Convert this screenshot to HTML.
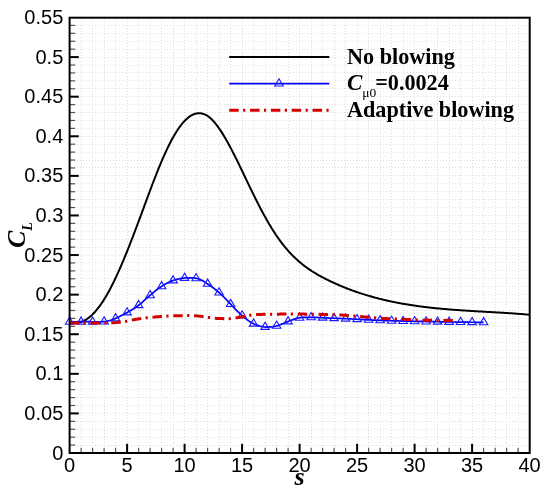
<!DOCTYPE html>
<html><head><meta charset="utf-8"><title>CL vs s</title>
<style>html,body{margin:0;padding:0;background:#fff;}body{width:550px;height:494px;overflow:hidden;}svg{display:block;}</style>
</head><body>
<svg width="550" height="494" viewBox="0 0 550 494">
<g stroke="#dedede" stroke-width="1" stroke-dasharray="1 2" fill="none"><line x1="81.5" y1="19" x2="81.5" y2="452"/><line x1="92.5" y1="19" x2="92.5" y2="452"/><line x1="104.5" y1="19" x2="104.5" y2="452"/><line x1="115.5" y1="19" x2="115.5" y2="452"/><line x1="127.5" y1="19" x2="127.5" y2="452"/><line x1="138.5" y1="19" x2="138.5" y2="452"/><line x1="150.5" y1="19" x2="150.5" y2="452"/><line x1="161.5" y1="19" x2="161.5" y2="452"/><line x1="173.5" y1="19" x2="173.5" y2="452"/><line x1="184.5" y1="19" x2="184.5" y2="452"/><line x1="196.5" y1="19" x2="196.5" y2="452"/><line x1="207.5" y1="19" x2="207.5" y2="452"/><line x1="219.5" y1="19" x2="219.5" y2="452"/><line x1="230.5" y1="19" x2="230.5" y2="452"/><line x1="242.5" y1="19" x2="242.5" y2="452"/><line x1="253.5" y1="19" x2="253.5" y2="452"/><line x1="265.5" y1="19" x2="265.5" y2="452"/><line x1="276.5" y1="19" x2="276.5" y2="452"/><line x1="288.5" y1="19" x2="288.5" y2="452"/><line x1="299.5" y1="19" x2="299.5" y2="452"/><line x1="311.5" y1="19" x2="311.5" y2="452"/><line x1="322.5" y1="19" x2="322.5" y2="452"/><line x1="334.5" y1="19" x2="334.5" y2="452"/><line x1="345.5" y1="19" x2="345.5" y2="452"/><line x1="357.5" y1="19" x2="357.5" y2="452"/><line x1="368.5" y1="19" x2="368.5" y2="452"/><line x1="380.5" y1="19" x2="380.5" y2="452"/><line x1="391.5" y1="19" x2="391.5" y2="452"/><line x1="403.5" y1="19" x2="403.5" y2="452"/><line x1="414.5" y1="19" x2="414.5" y2="452"/><line x1="426.5" y1="19" x2="426.5" y2="452"/><line x1="437.5" y1="19" x2="437.5" y2="452"/><line x1="449.5" y1="19" x2="449.5" y2="452"/><line x1="460.5" y1="19" x2="460.5" y2="452"/><line x1="472.5" y1="19" x2="472.5" y2="452"/><line x1="483.5" y1="19" x2="483.5" y2="452"/><line x1="495.5" y1="19" x2="495.5" y2="452"/><line x1="506.5" y1="19" x2="506.5" y2="452"/><line x1="518.5" y1="19" x2="518.5" y2="452"/><line x1="71" y1="445.5" x2="529" y2="445.5"/><line x1="71" y1="437.5" x2="529" y2="437.5"/><line x1="71" y1="429.5" x2="529" y2="429.5"/><line x1="71" y1="421.5" x2="529" y2="421.5"/><line x1="71" y1="413.5" x2="529" y2="413.5"/><line x1="71" y1="405.5" x2="529" y2="405.5"/><line x1="71" y1="397.5" x2="529" y2="397.5"/><line x1="71" y1="389.5" x2="529" y2="389.5"/><line x1="71" y1="381.5" x2="529" y2="381.5"/><line x1="71" y1="373.5" x2="529" y2="373.5"/><line x1="71" y1="365.5" x2="529" y2="365.5"/><line x1="71" y1="357.5" x2="529" y2="357.5"/><line x1="71" y1="350.5" x2="529" y2="350.5"/><line x1="71" y1="342.5" x2="529" y2="342.5"/><line x1="71" y1="334.5" x2="529" y2="334.5"/><line x1="71" y1="326.5" x2="529" y2="326.5"/><line x1="71" y1="318.5" x2="529" y2="318.5"/><line x1="71" y1="310.5" x2="529" y2="310.5"/><line x1="71" y1="302.5" x2="529" y2="302.5"/><line x1="71" y1="294.5" x2="529" y2="294.5"/><line x1="71" y1="286.5" x2="529" y2="286.5"/><line x1="71" y1="278.5" x2="529" y2="278.5"/><line x1="71" y1="270.5" x2="529" y2="270.5"/><line x1="71" y1="262.5" x2="529" y2="262.5"/><line x1="71" y1="255.5" x2="529" y2="255.5"/><line x1="71" y1="247.5" x2="529" y2="247.5"/><line x1="71" y1="239.5" x2="529" y2="239.5"/><line x1="71" y1="231.5" x2="529" y2="231.5"/><line x1="71" y1="223.5" x2="529" y2="223.5"/><line x1="71" y1="215.5" x2="529" y2="215.5"/><line x1="71" y1="207.5" x2="529" y2="207.5"/><line x1="71" y1="199.5" x2="529" y2="199.5"/><line x1="71" y1="191.5" x2="529" y2="191.5"/><line x1="71" y1="183.5" x2="529" y2="183.5"/><line x1="71" y1="175.5" x2="529" y2="175.5"/><line x1="71" y1="167.5" x2="529" y2="167.5"/><line x1="71" y1="160.5" x2="529" y2="160.5"/><line x1="71" y1="152.5" x2="529" y2="152.5"/><line x1="71" y1="144.5" x2="529" y2="144.5"/><line x1="71" y1="136.5" x2="529" y2="136.5"/><line x1="71" y1="128.5" x2="529" y2="128.5"/><line x1="71" y1="120.5" x2="529" y2="120.5"/><line x1="71" y1="112.5" x2="529" y2="112.5"/><line x1="71" y1="104.5" x2="529" y2="104.5"/><line x1="71" y1="96.5" x2="529" y2="96.5"/><line x1="71" y1="88.5" x2="529" y2="88.5"/><line x1="71" y1="80.5" x2="529" y2="80.5"/><line x1="71" y1="72.5" x2="529" y2="72.5"/><line x1="71" y1="65.5" x2="529" y2="65.5"/><line x1="71" y1="57.5" x2="529" y2="57.5"/><line x1="71" y1="49.5" x2="529" y2="49.5"/><line x1="71" y1="41.5" x2="529" y2="41.5"/><line x1="71" y1="33.5" x2="529" y2="33.5"/><line x1="71" y1="25.5" x2="529" y2="25.5"/></g>
<line x1="81.10" y1="453" x2="81.10" y2="447.8" stroke="#555" stroke-width="1.2"/><line x1="92.60" y1="453" x2="92.60" y2="447.8" stroke="#555" stroke-width="1.2"/><line x1="104.10" y1="453" x2="104.10" y2="447.8" stroke="#555" stroke-width="1.2"/><line x1="115.60" y1="453" x2="115.60" y2="447.8" stroke="#555" stroke-width="1.2"/><line x1="127.10" y1="453" x2="127.10" y2="443.8" stroke="#000" stroke-width="2"/><line x1="138.60" y1="453" x2="138.60" y2="447.8" stroke="#555" stroke-width="1.2"/><line x1="150.10" y1="453" x2="150.10" y2="447.8" stroke="#555" stroke-width="1.2"/><line x1="161.60" y1="453" x2="161.60" y2="447.8" stroke="#555" stroke-width="1.2"/><line x1="173.10" y1="453" x2="173.10" y2="447.8" stroke="#555" stroke-width="1.2"/><line x1="184.60" y1="453" x2="184.60" y2="443.8" stroke="#000" stroke-width="2"/><line x1="196.10" y1="453" x2="196.10" y2="447.8" stroke="#555" stroke-width="1.2"/><line x1="207.60" y1="453" x2="207.60" y2="447.8" stroke="#555" stroke-width="1.2"/><line x1="219.10" y1="453" x2="219.10" y2="447.8" stroke="#555" stroke-width="1.2"/><line x1="230.60" y1="453" x2="230.60" y2="447.8" stroke="#555" stroke-width="1.2"/><line x1="242.10" y1="453" x2="242.10" y2="443.8" stroke="#000" stroke-width="2"/><line x1="253.60" y1="453" x2="253.60" y2="447.8" stroke="#555" stroke-width="1.2"/><line x1="265.10" y1="453" x2="265.10" y2="447.8" stroke="#555" stroke-width="1.2"/><line x1="276.60" y1="453" x2="276.60" y2="447.8" stroke="#555" stroke-width="1.2"/><line x1="288.10" y1="453" x2="288.10" y2="447.8" stroke="#555" stroke-width="1.2"/><line x1="299.60" y1="453" x2="299.60" y2="443.8" stroke="#000" stroke-width="2"/><line x1="311.10" y1="453" x2="311.10" y2="447.8" stroke="#555" stroke-width="1.2"/><line x1="322.60" y1="453" x2="322.60" y2="447.8" stroke="#555" stroke-width="1.2"/><line x1="334.10" y1="453" x2="334.10" y2="447.8" stroke="#555" stroke-width="1.2"/><line x1="345.60" y1="453" x2="345.60" y2="447.8" stroke="#555" stroke-width="1.2"/><line x1="357.10" y1="453" x2="357.10" y2="443.8" stroke="#000" stroke-width="2"/><line x1="368.60" y1="453" x2="368.60" y2="447.8" stroke="#555" stroke-width="1.2"/><line x1="380.10" y1="453" x2="380.10" y2="447.8" stroke="#555" stroke-width="1.2"/><line x1="391.60" y1="453" x2="391.60" y2="447.8" stroke="#555" stroke-width="1.2"/><line x1="403.10" y1="453" x2="403.10" y2="447.8" stroke="#555" stroke-width="1.2"/><line x1="414.60" y1="453" x2="414.60" y2="443.8" stroke="#000" stroke-width="2"/><line x1="426.10" y1="453" x2="426.10" y2="447.8" stroke="#555" stroke-width="1.2"/><line x1="437.60" y1="453" x2="437.60" y2="447.8" stroke="#555" stroke-width="1.2"/><line x1="449.10" y1="453" x2="449.10" y2="447.8" stroke="#555" stroke-width="1.2"/><line x1="460.60" y1="453" x2="460.60" y2="447.8" stroke="#555" stroke-width="1.2"/><line x1="472.10" y1="453" x2="472.10" y2="443.8" stroke="#000" stroke-width="2"/><line x1="483.60" y1="453" x2="483.60" y2="447.8" stroke="#555" stroke-width="1.2"/><line x1="495.10" y1="453" x2="495.10" y2="447.8" stroke="#555" stroke-width="1.2"/><line x1="506.60" y1="453" x2="506.60" y2="447.8" stroke="#555" stroke-width="1.2"/><line x1="518.10" y1="453" x2="518.10" y2="447.8" stroke="#555" stroke-width="1.2"/><line x1="69.6" y1="445.08" x2="75.2" y2="445.08" stroke="#555" stroke-width="1.2"/><line x1="69.6" y1="437.16" x2="75.2" y2="437.16" stroke="#555" stroke-width="1.2"/><line x1="69.6" y1="429.25" x2="75.2" y2="429.25" stroke="#555" stroke-width="1.2"/><line x1="69.6" y1="421.33" x2="75.2" y2="421.33" stroke="#555" stroke-width="1.2"/><line x1="69.6" y1="413.41" x2="78.8" y2="413.41" stroke="#000" stroke-width="2"/><line x1="69.6" y1="405.49" x2="75.2" y2="405.49" stroke="#555" stroke-width="1.2"/><line x1="69.6" y1="397.57" x2="75.2" y2="397.57" stroke="#555" stroke-width="1.2"/><line x1="69.6" y1="389.66" x2="75.2" y2="389.66" stroke="#555" stroke-width="1.2"/><line x1="69.6" y1="381.74" x2="75.2" y2="381.74" stroke="#555" stroke-width="1.2"/><line x1="69.6" y1="373.82" x2="78.8" y2="373.82" stroke="#000" stroke-width="2"/><line x1="69.6" y1="365.90" x2="75.2" y2="365.90" stroke="#555" stroke-width="1.2"/><line x1="69.6" y1="357.98" x2="75.2" y2="357.98" stroke="#555" stroke-width="1.2"/><line x1="69.6" y1="350.07" x2="75.2" y2="350.07" stroke="#555" stroke-width="1.2"/><line x1="69.6" y1="342.15" x2="75.2" y2="342.15" stroke="#555" stroke-width="1.2"/><line x1="69.6" y1="334.23" x2="78.8" y2="334.23" stroke="#000" stroke-width="2"/><line x1="69.6" y1="326.31" x2="75.2" y2="326.31" stroke="#555" stroke-width="1.2"/><line x1="69.6" y1="318.39" x2="75.2" y2="318.39" stroke="#555" stroke-width="1.2"/><line x1="69.6" y1="310.48" x2="75.2" y2="310.48" stroke="#555" stroke-width="1.2"/><line x1="69.6" y1="302.56" x2="75.2" y2="302.56" stroke="#555" stroke-width="1.2"/><line x1="69.6" y1="294.64" x2="78.8" y2="294.64" stroke="#000" stroke-width="2"/><line x1="69.6" y1="286.72" x2="75.2" y2="286.72" stroke="#555" stroke-width="1.2"/><line x1="69.6" y1="278.80" x2="75.2" y2="278.80" stroke="#555" stroke-width="1.2"/><line x1="69.6" y1="270.89" x2="75.2" y2="270.89" stroke="#555" stroke-width="1.2"/><line x1="69.6" y1="262.97" x2="75.2" y2="262.97" stroke="#555" stroke-width="1.2"/><line x1="69.6" y1="255.05" x2="78.8" y2="255.05" stroke="#000" stroke-width="2"/><line x1="69.6" y1="247.13" x2="75.2" y2="247.13" stroke="#555" stroke-width="1.2"/><line x1="69.6" y1="239.21" x2="75.2" y2="239.21" stroke="#555" stroke-width="1.2"/><line x1="69.6" y1="231.30" x2="75.2" y2="231.30" stroke="#555" stroke-width="1.2"/><line x1="69.6" y1="223.38" x2="75.2" y2="223.38" stroke="#555" stroke-width="1.2"/><line x1="69.6" y1="215.46" x2="78.8" y2="215.46" stroke="#000" stroke-width="2"/><line x1="69.6" y1="207.54" x2="75.2" y2="207.54" stroke="#555" stroke-width="1.2"/><line x1="69.6" y1="199.62" x2="75.2" y2="199.62" stroke="#555" stroke-width="1.2"/><line x1="69.6" y1="191.71" x2="75.2" y2="191.71" stroke="#555" stroke-width="1.2"/><line x1="69.6" y1="183.79" x2="75.2" y2="183.79" stroke="#555" stroke-width="1.2"/><line x1="69.6" y1="175.87" x2="78.8" y2="175.87" stroke="#000" stroke-width="2"/><line x1="69.6" y1="167.95" x2="75.2" y2="167.95" stroke="#555" stroke-width="1.2"/><line x1="69.6" y1="160.03" x2="75.2" y2="160.03" stroke="#555" stroke-width="1.2"/><line x1="69.6" y1="152.12" x2="75.2" y2="152.12" stroke="#555" stroke-width="1.2"/><line x1="69.6" y1="144.20" x2="75.2" y2="144.20" stroke="#555" stroke-width="1.2"/><line x1="69.6" y1="136.28" x2="78.8" y2="136.28" stroke="#000" stroke-width="2"/><line x1="69.6" y1="128.36" x2="75.2" y2="128.36" stroke="#555" stroke-width="1.2"/><line x1="69.6" y1="120.44" x2="75.2" y2="120.44" stroke="#555" stroke-width="1.2"/><line x1="69.6" y1="112.53" x2="75.2" y2="112.53" stroke="#555" stroke-width="1.2"/><line x1="69.6" y1="104.61" x2="75.2" y2="104.61" stroke="#555" stroke-width="1.2"/><line x1="69.6" y1="96.69" x2="78.8" y2="96.69" stroke="#000" stroke-width="2"/><line x1="69.6" y1="88.77" x2="75.2" y2="88.77" stroke="#555" stroke-width="1.2"/><line x1="69.6" y1="80.85" x2="75.2" y2="80.85" stroke="#555" stroke-width="1.2"/><line x1="69.6" y1="72.94" x2="75.2" y2="72.94" stroke="#555" stroke-width="1.2"/><line x1="69.6" y1="65.02" x2="75.2" y2="65.02" stroke="#555" stroke-width="1.2"/><line x1="69.6" y1="57.10" x2="78.8" y2="57.10" stroke="#000" stroke-width="2"/><line x1="69.6" y1="49.18" x2="75.2" y2="49.18" stroke="#555" stroke-width="1.2"/><line x1="69.6" y1="41.26" x2="75.2" y2="41.26" stroke="#555" stroke-width="1.2"/><line x1="69.6" y1="33.35" x2="75.2" y2="33.35" stroke="#555" stroke-width="1.2"/><line x1="69.6" y1="25.43" x2="75.2" y2="25.43" stroke="#555" stroke-width="1.2"/>
<path d="M69.60,321.59 L70.40,321.87 L71.20,322.11 L72.00,322.31 L72.80,322.47 L73.60,322.60 L74.40,322.68 L75.20,322.72 L76.00,322.73 L76.80,322.69 L77.60,322.62 L78.40,322.51 L79.20,322.36 L80.00,322.17 L80.80,321.94 L81.60,321.68 L82.40,321.38 L83.20,321.04 L84.00,320.66 L84.80,320.25 L85.60,319.80 L86.40,319.31 L87.20,318.79 L88.00,318.23 L88.80,317.63 L89.60,317.00 L90.40,316.33 L91.20,315.63 L92.00,314.89 L92.80,314.11 L93.60,313.30 L94.40,312.45 L95.20,311.57 L96.00,310.65 L96.80,309.70 L97.60,308.72 L98.40,307.70 L99.20,306.64 L100.00,305.56 L100.80,304.44 L101.60,303.28 L102.40,302.09 L103.20,300.87 L104.00,299.61 L104.80,298.32 L105.60,297.00 L106.40,295.65 L107.20,294.26 L108.00,292.85 L108.80,291.40 L109.60,289.92 L110.40,288.41 L111.20,286.87 L112.00,285.31 L112.80,283.72 L113.60,282.10 L114.40,280.45 L115.20,278.78 L116.00,277.08 L116.80,275.36 L117.60,273.61 L118.40,271.84 L119.20,270.05 L120.00,268.24 L120.80,266.41 L121.60,264.55 L122.40,262.68 L123.20,260.78 L124.00,258.87 L124.80,256.94 L125.60,254.99 L126.40,253.03 L127.20,251.05 L128.00,249.05 L128.80,247.04 L129.60,245.02 L130.40,242.98 L131.20,240.92 L132.00,238.86 L132.80,236.79 L133.60,234.70 L134.40,232.60 L135.20,230.50 L136.00,228.38 L136.80,226.26 L137.60,224.12 L138.40,221.98 L139.20,219.84 L140.00,217.69 L140.80,215.53 L141.60,213.37 L142.40,211.21 L143.20,209.04 L144.00,206.87 L144.80,204.70 L145.60,202.54 L146.40,200.37 L147.20,198.21 L148.00,196.05 L148.80,193.90 L149.60,191.76 L150.40,189.62 L151.21,187.50 L152.01,185.38 L152.81,183.27 L153.61,181.18 L154.41,179.10 L155.21,177.04 L156.01,174.99 L156.82,172.96 L157.62,170.94 L158.42,168.95 L159.23,166.97 L160.03,165.02 L160.83,163.09 L161.64,161.19 L162.44,159.31 L163.25,157.45 L164.05,155.62 L164.86,153.82 L165.67,152.05 L166.48,150.32 L167.29,148.61 L168.10,146.93 L168.91,145.29 L169.72,143.68 L170.53,142.11 L171.34,140.57 L172.16,139.06 L172.97,137.59 L173.79,136.16 L174.61,134.76 L175.42,133.40 L176.24,132.08 L177.06,130.80 L177.88,129.56 L178.71,128.35 L179.53,127.19 L180.35,126.07 L181.17,124.99 L182.00,123.95 L182.82,122.96 L183.65,122.01 L184.47,121.10 L185.30,120.25 L186.12,119.43 L186.95,118.67 L187.77,117.96 L188.59,117.29 L189.42,116.68 L190.24,116.11 L191.06,115.60 L191.88,115.14 L192.70,114.73 L193.52,114.38 L194.34,114.07 L195.15,113.81 L195.96,113.60 L196.77,113.44 L197.58,113.33 L198.39,113.26 L199.20,113.25 L200.00,113.27 L200.80,113.35 L201.60,113.48 L202.40,113.65 L203.19,113.87 L203.98,114.14 L204.77,114.45 L205.56,114.82 L206.35,115.23 L207.14,115.70 L207.92,116.21 L208.70,116.77 L209.48,117.38 L210.26,118.04 L211.04,118.74 L211.82,119.48 L212.59,120.27 L213.37,121.10 L214.15,121.96 L214.92,122.87 L215.70,123.82 L216.47,124.80 L217.25,125.82 L218.02,126.87 L218.80,127.96 L219.57,129.08 L220.35,130.23 L221.13,131.41 L221.91,132.62 L222.68,133.86 L223.46,135.12 L224.24,136.42 L225.02,137.74 L225.81,139.08 L226.59,140.45 L227.37,141.85 L228.16,143.26 L228.94,144.70 L229.73,146.16 L230.52,147.64 L231.31,149.13 L232.10,150.65 L232.89,152.18 L233.68,153.72 L234.47,155.29 L235.26,156.86 L236.05,158.45 L236.85,160.06 L237.64,161.67 L238.44,163.29 L239.23,164.93 L240.03,166.57 L240.83,168.22 L241.62,169.88 L242.42,171.54 L243.22,173.20 L244.01,174.87 L244.81,176.54 L245.61,178.22 L246.41,179.89 L247.21,181.56 L248.01,183.23 L248.81,184.90 L249.60,186.56 L250.40,188.22 L251.20,189.87 L252.00,191.52 L252.80,193.16 L253.60,194.78 L254.40,196.40 L255.20,198.01 L256.00,199.61 L256.80,201.20 L257.60,202.77 L258.40,204.34 L259.20,205.89 L260.00,207.43 L260.80,208.95 L261.60,210.46 L262.40,211.96 L263.20,213.45 L264.00,214.92 L264.80,216.37 L265.60,217.81 L266.40,219.24 L267.20,220.64 L268.00,222.04 L268.80,223.41 L269.60,224.77 L270.40,226.10 L271.20,227.42 L272.00,228.73 L272.80,230.01 L273.60,231.27 L274.40,232.52 L275.20,233.74 L276.00,234.94 L276.80,236.13 L277.60,237.29 L278.40,238.43 L279.20,239.55 L280.00,240.65 L280.80,241.72 L281.60,242.78 L282.40,243.82 L283.20,244.85 L284.00,245.85 L284.80,246.83 L285.60,247.80 L286.40,248.75 L287.20,249.68 L288.00,250.59 L288.80,251.48 L289.60,252.36 L290.40,253.22 L291.20,254.07 L292.00,254.90 L292.80,255.71 L293.60,256.51 L294.40,257.29 L295.20,258.06 L296.00,258.81 L296.80,259.55 L297.60,260.27 L298.40,260.99 L299.20,261.68 L300.00,262.37 L300.80,263.04 L301.60,263.70 L302.40,264.34 L303.20,264.97 L304.00,265.60 L304.80,266.21 L305.60,266.80 L306.40,267.39 L307.20,267.97 L308.00,268.54 L308.80,269.09 L309.60,269.64 L310.40,270.17 L311.20,270.70 L312.00,271.22 L312.80,271.73 L313.60,272.23 L314.40,272.72 L315.20,273.21 L316.00,273.68 L316.80,274.15 L317.60,274.61 L318.40,275.07 L319.20,275.52 L320.00,275.96 L320.80,276.39 L321.60,276.82 L322.40,277.25 L323.20,277.67 L324.00,278.08 L324.80,278.49 L325.60,278.90 L326.40,279.30 L327.20,279.70 L328.00,280.09 L328.80,280.48 L329.60,280.87 L330.40,281.25 L331.20,281.63 L332.00,282.01 L332.80,282.38 L333.60,282.75 L334.40,283.12 L335.20,283.48 L336.00,283.84 L336.80,284.19 L337.60,284.54 L338.40,284.89 L339.20,285.24 L340.00,285.58 L340.80,285.92 L341.60,286.25 L342.40,286.59 L343.20,286.92 L344.00,287.24 L344.80,287.56 L345.60,287.88 L346.40,288.20 L347.20,288.51 L348.00,288.82 L348.80,289.13 L349.60,289.43 L350.40,289.73 L351.20,290.03 L352.00,290.33 L352.80,290.62 L353.60,290.91 L354.40,291.19 L355.20,291.47 L356.00,291.75 L356.80,292.03 L357.60,292.30 L358.40,292.58 L359.20,292.84 L360.00,293.11 L360.80,293.37 L361.60,293.63 L362.40,293.89 L363.20,294.14 L364.00,294.40 L364.80,294.65 L365.60,294.89 L366.40,295.14 L367.20,295.38 L368.00,295.61 L368.80,295.85 L369.60,296.08 L370.40,296.31 L371.20,296.54 L372.00,296.77 L372.80,296.99 L373.60,297.21 L374.40,297.43 L375.20,297.65 L376.00,297.86 L376.80,298.07 L377.60,298.28 L378.40,298.49 L379.20,298.69 L380.00,298.89 L380.80,299.09 L381.60,299.29 L382.40,299.48 L383.20,299.67 L384.00,299.86 L384.80,300.05 L385.60,300.24 L386.40,300.42 L387.20,300.60 L388.00,300.78 L388.80,300.96 L389.60,301.13 L390.40,301.31 L391.20,301.48 L392.00,301.64 L392.80,301.81 L393.60,301.98 L394.40,302.14 L395.20,302.30 L396.00,302.46 L396.80,302.61 L397.60,302.77 L398.40,302.92 L399.20,303.07 L400.00,303.22 L400.80,303.37 L401.60,303.51 L402.40,303.66 L403.20,303.80 L404.00,303.94 L404.80,304.07 L405.60,304.21 L406.40,304.34 L407.20,304.48 L408.00,304.61 L408.80,304.74 L409.60,304.86 L410.40,304.99 L411.20,305.11 L412.00,305.24 L412.80,305.36 L413.60,305.48 L414.40,305.59 L415.20,305.71 L416.00,305.82 L416.80,305.94 L417.60,306.05 L418.40,306.16 L419.20,306.27 L420.00,306.37 L420.80,306.48 L421.60,306.58 L422.40,306.68 L423.20,306.79 L424.00,306.89 L424.80,306.98 L425.60,307.08 L426.40,307.18 L427.20,307.27 L428.00,307.36 L428.80,307.46 L429.60,307.55 L430.40,307.64 L431.20,307.72 L432.00,307.81 L432.80,307.90 L433.60,307.98 L434.40,308.06 L435.20,308.15 L436.00,308.23 L436.80,308.31 L437.60,308.39 L438.40,308.46 L439.20,308.54 L440.00,308.62 L440.80,308.69 L441.60,308.77 L442.40,308.84 L443.20,308.91 L444.00,308.98 L444.80,309.05 L445.60,309.12 L446.40,309.19 L447.20,309.26 L448.00,309.32 L448.80,309.39 L449.60,309.45 L450.40,309.52 L451.20,309.58 L452.00,309.64 L452.80,309.70 L453.60,309.76 L454.40,309.82 L455.20,309.88 L456.00,309.94 L456.80,310.00 L457.60,310.06 L458.40,310.11 L459.20,310.17 L460.00,310.23 L460.80,310.28 L461.60,310.34 L462.40,310.39 L463.20,310.44 L464.00,310.50 L464.80,310.55 L465.60,310.60 L466.40,310.65 L467.20,310.70 L468.00,310.75 L468.80,310.80 L469.60,310.85 L470.40,310.90 L471.20,310.95 L472.00,311.00 L472.80,311.05 L473.60,311.10 L474.40,311.14 L475.20,311.19 L476.00,311.24 L476.80,311.28 L477.60,311.33 L478.40,311.38 L479.20,311.42 L480.00,311.47 L480.80,311.52 L481.60,311.56 L482.40,311.61 L483.20,311.65 L484.00,311.70 L484.80,311.74 L485.60,311.79 L486.40,311.83 L487.20,311.88 L488.00,311.92 L488.80,311.97 L489.60,312.02 L490.40,312.06 L491.20,312.11 L492.00,312.15 L492.80,312.20 L493.60,312.24 L494.40,312.29 L495.20,312.34 L496.00,312.38 L496.80,312.43 L497.60,312.48 L498.40,312.52 L499.20,312.57 L500.00,312.62 L500.80,312.66 L501.60,312.71 L502.40,312.76 L503.20,312.81 L504.00,312.86 L504.80,312.91 L505.60,312.96 L506.40,313.01 L507.20,313.06 L508.00,313.11 L508.80,313.16 L509.60,313.21 L510.40,313.27 L511.20,313.32 L512.00,313.37 L512.80,313.43 L513.60,313.48 L514.40,313.54 L515.20,313.59 L516.00,313.65 L516.80,313.71 L517.60,313.76 L518.40,313.82 L519.20,313.88 L520.00,313.94 L520.80,314.00 L521.60,314.06 L522.40,314.12 L523.20,314.19 L524.00,314.25 L524.80,314.31 L525.60,314.38 L526.40,314.44 L527.20,314.51 L528.00,314.58 L528.80,314.65 L529.60,314.72" fill="none" stroke="#000" stroke-width="2.0" stroke-linejoin="round"/>
<path d="M69.60,321.80 L70.40,321.79 L71.20,321.78 L72.00,321.77 L72.80,321.76 L73.60,321.76 L74.40,321.75 L75.20,321.74 L76.00,321.74 L76.80,321.73 L77.60,321.72 L78.40,321.72 L79.20,321.72 L80.00,321.71 L80.80,321.71 L81.60,321.71 L82.40,321.70 L83.20,321.70 L84.00,321.70 L84.80,321.70 L85.60,321.70 L86.40,321.70 L87.20,321.70 L88.00,321.71 L88.80,321.71 L89.60,321.72 L90.40,321.72 L91.20,321.73 L92.00,321.73 L92.80,321.74 L93.60,321.74 L94.40,321.75 L95.20,321.75 L96.00,321.76 L96.80,321.76 L97.60,321.77 L98.40,321.77 L99.20,321.77 L100.00,321.77 L100.80,321.76 L101.60,321.74 L102.40,321.71 L103.20,321.68 L104.00,321.63 L104.80,321.57 L105.60,321.50 L106.40,321.35 L107.20,321.17 L108.00,320.96 L108.80,320.75 L109.60,320.55 L110.40,320.34 L111.20,320.12 L112.00,319.88 L112.80,319.62 L113.60,319.33 L114.40,319.00 L115.20,318.64 L116.00,318.27 L116.80,317.88 L117.60,317.50 L118.40,317.10 L119.20,316.69 L120.00,316.27 L120.80,315.85 L121.60,315.44 L122.40,315.01 L123.20,314.58 L124.00,314.16 L124.80,313.73 L125.60,313.30 L126.40,312.88 L127.20,312.46 L128.00,312.03 L128.80,311.59 L129.60,311.14 L130.40,310.69 L131.20,310.23 L132.00,309.75 L132.80,309.26 L133.60,308.76 L134.40,308.23 L135.20,307.68 L136.00,307.11 L136.80,306.54 L137.60,305.97 L138.40,305.39 L139.20,304.80 L140.00,304.20 L140.80,303.57 L141.60,302.90 L142.40,302.19 L143.20,301.45 L144.00,300.70 L144.80,299.95 L145.60,299.23 L146.40,298.52 L147.20,297.82 L148.00,297.11 L148.80,296.42 L149.60,295.72 L150.40,295.04 L151.20,294.35 L152.00,293.67 L152.80,292.99 L153.60,292.31 L154.40,291.65 L155.20,291.00 L156.00,290.37 L156.80,289.76 L157.60,289.17 L158.40,288.59 L159.20,288.02 L160.00,287.47 L160.80,286.93 L161.60,286.41 L162.40,285.89 L163.20,285.38 L164.00,284.88 L164.80,284.39 L165.60,283.92 L166.40,283.47 L167.20,283.05 L168.00,282.65 L168.80,282.26 L169.60,281.88 L170.40,281.53 L171.20,281.19 L172.00,280.87 L172.80,280.59 L173.60,280.31 L174.40,280.06 L175.20,279.81 L176.00,279.58 L176.80,279.37 L177.60,279.17 L178.40,278.99 L179.20,278.80 L180.00,278.63 L180.80,278.46 L181.60,278.31 L182.40,278.18 L183.20,278.08 L184.00,278.02 L184.80,277.97 L185.60,277.92 L186.40,277.87 L187.20,277.84 L188.00,277.81 L188.80,277.80 L189.60,277.80 L190.40,277.82 L191.20,277.86 L192.00,277.90 L192.80,277.96 L193.60,278.02 L194.40,278.09 L195.20,278.18 L196.00,278.32 L196.80,278.50 L197.60,278.71 L198.40,278.95 L199.20,279.21 L200.00,279.48 L200.80,279.79 L201.60,280.17 L202.40,280.60 L203.20,281.08 L204.00,281.58 L204.80,282.10 L205.60,282.63 L206.40,283.15 L207.20,283.66 L208.00,284.18 L208.80,284.71 L209.60,285.26 L210.40,285.81 L211.20,286.38 L212.00,286.96 L212.80,287.55 L213.60,288.15 L214.40,288.76 L215.20,289.38 L216.00,290.02 L216.80,290.67 L217.60,291.33 L218.40,292.01 L219.20,292.70 L220.00,293.41 L220.80,294.14 L221.60,294.89 L222.40,295.66 L223.20,296.44 L224.00,297.23 L224.80,298.03 L225.60,298.83 L226.40,299.66 L227.20,300.50 L228.00,301.35 L228.80,302.22 L229.60,303.08 L230.40,303.94 L231.20,304.79 L232.00,305.63 L232.80,306.48 L233.60,307.32 L234.40,308.16 L235.20,308.99 L236.00,309.81 L236.80,310.62 L237.60,311.40 L238.40,312.16 L239.20,312.91 L240.00,313.65 L240.80,314.38 L241.60,315.09 L242.40,315.78 L243.20,316.47 L244.00,317.13 L244.80,317.80 L245.60,318.46 L246.40,319.10 L247.20,319.73 L248.00,320.33 L248.80,320.91 L249.60,321.44 L250.40,321.94 L251.20,322.42 L252.00,322.89 L252.80,323.33 L253.60,323.75 L254.40,324.13 L255.20,324.48 L256.00,324.79 L256.80,325.09 L257.60,325.37 L258.40,325.64 L259.20,325.88 L260.00,326.10 L260.80,326.28 L261.60,326.44 L262.40,326.58 L263.20,326.73 L264.00,326.86 L264.80,326.97 L265.60,327.05 L266.40,327.09 L267.20,327.10 L268.00,327.07 L268.80,327.03 L269.60,326.97 L270.40,326.90 L271.20,326.82 L272.00,326.73 L272.80,326.64 L273.60,326.52 L274.40,326.38 L275.20,326.21 L276.00,326.03 L276.80,325.83 L277.60,325.63 L278.40,325.40 L279.20,325.12 L280.00,324.82 L280.80,324.49 L281.60,324.16 L282.40,323.82 L283.20,323.50 L284.00,323.18 L284.80,322.85 L285.60,322.52 L286.40,322.19 L287.20,321.86 L288.00,321.54 L288.80,321.22 L289.60,320.90 L290.40,320.57 L291.20,320.25 L292.00,319.94 L292.80,319.64 L293.60,319.36 L294.40,319.11 L295.20,318.86 L296.00,318.61 L296.80,318.38 L297.60,318.17 L298.40,317.99 L299.20,317.84 L300.00,317.73 L300.80,317.63 L301.60,317.53 L302.40,317.44 L303.20,317.37 L304.00,317.32 L304.80,317.30 L305.60,317.30 L306.40,317.30 L307.20,317.31 L308.00,317.31 L308.80,317.32 L309.60,317.33 L310.40,317.33 L311.20,317.34 L312.00,317.35 L312.80,317.37 L313.60,317.38 L314.40,317.39 L315.20,317.40 L316.00,317.42 L316.80,317.45 L317.60,317.48 L318.40,317.52 L319.20,317.56 L320.00,317.60 L320.80,317.65 L321.60,317.69 L322.40,317.74 L323.20,317.78 L324.00,317.83 L324.80,317.87 L325.60,317.90 L326.40,317.94 L327.20,317.97 L328.00,318.00 L328.80,318.04 L329.60,318.07 L330.40,318.10 L331.20,318.13 L332.00,318.16 L332.80,318.19 L333.60,318.21 L334.40,318.24 L335.20,318.27 L336.00,318.30 L336.80,318.33 L337.60,318.36 L338.40,318.39 L339.20,318.42 L340.00,318.45 L340.80,318.48 L341.60,318.52 L342.40,318.55 L343.20,318.58 L344.00,318.62 L344.80,318.65 L345.60,318.69 L346.40,318.73 L347.20,318.76 L348.00,318.80 L348.80,318.84 L349.60,318.88 L350.40,318.92 L351.20,318.96 L352.00,319.00 L352.80,319.04 L353.60,319.08 L354.40,319.12 L355.20,319.16 L356.00,319.21 L356.80,319.25 L357.60,319.29 L358.40,319.33 L359.20,319.37 L360.00,319.41 L360.80,319.45 L361.60,319.49 L362.40,319.53 L363.20,319.57 L364.00,319.61 L364.80,319.65 L365.60,319.70 L366.40,319.74 L367.20,319.78 L368.00,319.82 L368.80,319.87 L369.60,319.91 L370.40,319.95 L371.20,319.99 L372.00,320.03 L372.80,320.08 L373.60,320.12 L374.40,320.16 L375.20,320.19 L376.00,320.23 L376.80,320.27 L377.60,320.30 L378.40,320.34 L379.20,320.37 L380.00,320.40 L380.80,320.43 L381.60,320.46 L382.40,320.49 L383.20,320.52 L384.00,320.54 L384.80,320.57 L385.60,320.60 L386.40,320.62 L387.20,320.65 L388.00,320.67 L388.80,320.70 L389.60,320.72 L390.40,320.75 L391.20,320.77 L392.00,320.79 L392.80,320.81 L393.60,320.84 L394.40,320.86 L395.20,320.88 L396.00,320.90 L396.80,320.92 L397.60,320.94 L398.40,320.96 L399.20,320.98 L400.00,321.00 L400.80,321.02 L401.60,321.04 L402.40,321.06 L403.20,321.07 L404.00,321.09 L404.80,321.11 L405.60,321.12 L406.40,321.14 L407.20,321.16 L408.00,321.17 L408.80,321.19 L409.60,321.20 L410.40,321.22 L411.20,321.23 L412.00,321.25 L412.80,321.26 L413.60,321.28 L414.40,321.29 L415.20,321.31 L416.00,321.32 L416.80,321.34 L417.60,321.35 L418.40,321.37 L419.20,321.38 L420.00,321.40 L420.80,321.42 L421.60,321.43 L422.40,321.45 L423.20,321.47 L424.00,321.48 L424.80,321.50 L425.60,321.52 L426.40,321.53 L427.20,321.55 L428.00,321.57 L428.80,321.58 L429.60,321.60 L430.40,321.62 L431.20,321.63 L432.00,321.65 L432.80,321.66 L433.60,321.68 L434.40,321.70 L435.20,321.71 L436.00,321.73 L436.80,321.74 L437.60,321.76 L438.40,321.77 L439.20,321.79 L440.00,321.80 L440.80,321.81 L441.60,321.83 L442.40,321.84 L443.20,321.85 L444.00,321.87 L444.80,321.88 L445.60,321.89 L446.40,321.90 L447.20,321.92 L448.00,321.93 L448.80,321.94 L449.60,321.95 L450.40,321.96 L451.20,321.98 L452.00,321.99 L452.80,322.00 L453.60,322.01 L454.40,322.02 L455.20,322.03 L456.00,322.04 L456.80,322.06 L457.60,322.07 L458.40,322.08 L459.20,322.09 L460.00,322.10 L460.80,322.11 L461.60,322.12 L462.40,322.13 L463.20,322.14 L464.00,322.15 L464.80,322.17 L465.60,322.18 L466.40,322.19 L467.20,322.20 L468.00,322.21 L468.80,322.22 L469.60,322.23 L470.40,322.24 L471.20,322.25 L472.00,322.26 L472.80,322.27 L473.60,322.28 L474.40,322.29 L475.20,322.30 L476.00,322.31 L476.80,322.32 L477.60,322.33 L478.40,322.34 L479.20,322.35 L480.00,322.36 L480.80,322.37 L481.60,322.38 L482.40,322.39 L483.20,322.40 L483.60,322.40" fill="none" stroke="#0000ff" stroke-width="1.7" stroke-linejoin="round"/>
<path d="M69.60,317.00 L73.85,324.20 L65.35,324.20 Z M81.10,316.91 L85.35,324.11 L76.85,324.11 Z M92.60,316.94 L96.85,324.14 L88.35,324.14 Z M104.10,316.82 L108.35,324.02 L99.85,324.02 Z M115.60,313.65 L119.85,320.85 L111.35,320.85 Z M127.10,307.71 L131.35,314.91 L122.85,314.91 Z M138.60,300.44 L142.85,307.64 L134.35,307.64 Z M150.10,290.49 L154.35,297.69 L145.85,297.69 Z M161.60,281.61 L165.85,288.81 L157.35,288.81 Z M173.10,275.68 L177.35,282.88 L168.85,282.88 Z M184.60,273.18 L188.85,280.38 L180.35,280.38 Z M196.10,273.54 L200.35,280.74 L191.85,280.74 Z M207.60,279.12 L211.85,286.32 L203.35,286.32 Z M219.10,287.81 L223.35,295.01 L214.85,295.01 Z M230.60,299.35 L234.85,306.55 L226.35,306.55 Z M242.10,310.72 L246.35,317.92 L237.85,317.92 Z M253.60,318.95 L257.85,326.15 L249.35,326.15 Z M265.10,322.20 L269.35,329.40 L260.85,329.40 Z M276.60,321.08 L280.85,328.28 L272.35,328.28 Z M288.10,316.70 L292.35,323.90 L283.85,323.90 Z M299.60,312.99 L303.85,320.19 L295.35,320.19 Z M311.10,312.54 L315.35,319.74 L306.85,319.74 Z M322.60,312.95 L326.85,320.15 L318.35,320.15 Z M334.10,313.43 L338.35,320.63 L329.85,320.63 Z M345.60,313.89 L349.85,321.09 L341.35,321.09 Z M357.10,314.46 L361.35,321.66 L352.85,321.66 Z M368.60,315.06 L372.85,322.26 L364.35,322.26 Z M380.10,315.60 L384.35,322.80 L375.85,322.80 Z M391.60,315.98 L395.85,323.18 L387.35,323.18 Z M403.10,316.27 L407.35,323.47 L398.85,323.47 Z M414.60,316.50 L418.85,323.70 L410.35,323.70 Z M426.10,316.73 L430.35,323.93 L421.85,323.93 Z M437.60,316.96 L441.85,324.16 L433.35,324.16 Z M449.10,317.15 L453.35,324.35 L444.85,324.35 Z M460.60,317.31 L464.85,324.51 L456.35,324.51 Z M472.10,317.46 L476.35,324.66 L467.85,324.66 Z M483.60,317.60 L487.85,324.80 L479.35,324.80 Z" fill="none" stroke="#1a1aff" stroke-width="1.1"/>
<path d="M69.60,322.90 L70.40,322.91 L71.20,322.92 L72.00,322.93 L72.80,322.93 L73.60,322.94 L74.40,322.95 L75.20,322.95 L76.00,322.96 L76.80,322.96 L77.60,322.97 L78.40,322.97 L79.20,322.98 L80.00,322.98 L80.80,322.98 L81.60,322.99 L82.40,322.99 L83.20,322.99 L84.00,322.99 L84.80,323.00 L85.60,323.00 L86.40,323.00 L87.20,323.00 L88.00,323.00 L88.80,323.00 L89.60,323.00 L90.40,323.00 L91.20,323.00 L92.00,323.00 L92.80,323.00 L93.60,322.99 L94.40,322.99 L95.20,322.99 L96.00,322.98 L96.80,322.98 L97.60,322.97 L98.40,322.96 L99.20,322.96 L100.00,322.95 L100.80,322.94 L101.60,322.94 L102.40,322.93 L103.20,322.92 L104.00,322.91 L104.80,322.90 L105.60,322.89 L106.40,322.88 L107.20,322.87 L108.00,322.85 L108.80,322.83 L109.60,322.81 L110.40,322.78 L111.20,322.76 L112.00,322.73 L112.80,322.70 L113.60,322.66 L114.40,322.63 L115.20,322.59 L116.00,322.54 L116.80,322.49 L117.60,322.42 L118.40,322.34 L119.20,322.26 L120.00,322.17 L120.80,322.07 L121.60,321.97 L122.40,321.86 L123.20,321.75 L124.00,321.64 L124.80,321.53 L125.60,321.41 L126.40,321.28 L127.20,321.13 L128.00,320.97 L128.80,320.80 L129.60,320.63 L130.40,320.45 L131.20,320.27 L132.00,320.09 L132.80,319.92 L133.60,319.76 L134.40,319.61 L135.20,319.47 L136.00,319.33 L136.80,319.20 L137.60,319.06 L138.40,318.94 L139.20,318.81 L140.00,318.69 L140.80,318.57 L141.60,318.45 L142.40,318.34 L143.20,318.23 L144.00,318.12 L144.80,318.02 L145.60,317.93 L146.40,317.84 L147.20,317.75 L148.00,317.66 L148.80,317.58 L149.60,317.50 L150.40,317.42 L151.20,317.35 L152.00,317.27 L152.80,317.20 L153.60,317.13 L154.40,317.05 L155.20,316.98 L156.00,316.91 L156.80,316.84 L157.60,316.77 L158.40,316.69 L159.20,316.62 L160.00,316.55 L160.80,316.49 L161.60,316.42 L162.40,316.36 L163.20,316.31 L164.00,316.26 L164.80,316.21 L165.60,316.17 L166.40,316.13 L167.20,316.09 L168.00,316.05 L168.80,316.01 L169.60,315.97 L170.40,315.93 L171.20,315.90 L172.00,315.87 L172.80,315.84 L173.60,315.81 L174.40,315.78 L175.20,315.76 L176.00,315.74 L176.80,315.72 L177.60,315.71 L178.40,315.69 L179.20,315.68 L180.00,315.67 L180.80,315.66 L181.60,315.65 L182.40,315.65 L183.20,315.64 L184.00,315.63 L184.80,315.62 L185.60,315.62 L186.40,315.61 L187.20,315.61 L188.00,315.60 L188.80,315.60 L189.60,315.60 L190.40,315.60 L191.20,315.61 L192.00,315.63 L192.80,315.67 L193.60,315.71 L194.40,315.75 L195.20,315.80 L196.00,315.86 L196.80,315.93 L197.60,315.99 L198.40,316.06 L199.20,316.13 L200.00,316.20 L200.80,316.28 L201.60,316.38 L202.40,316.50 L203.20,316.63 L204.00,316.77 L204.80,316.90 L205.60,317.04 L206.40,317.17 L207.20,317.29 L208.00,317.40 L208.80,317.50 L209.60,317.60 L210.40,317.70 L211.20,317.80 L212.00,317.89 L212.80,317.99 L213.60,318.08 L214.40,318.16 L215.20,318.24 L216.00,318.31 L216.80,318.38 L217.60,318.43 L218.40,318.48 L219.20,318.51 L220.00,318.53 L220.80,318.56 L221.60,318.59 L222.40,318.61 L223.20,318.63 L224.00,318.65 L224.80,318.67 L225.60,318.68 L226.40,318.69 L227.20,318.70 L228.00,318.70 L228.80,318.69 L229.60,318.65 L230.40,318.59 L231.20,318.51 L232.00,318.42 L232.80,318.31 L233.60,318.20 L234.40,318.08 L235.20,317.96 L236.00,317.84 L236.80,317.73 L237.60,317.61 L238.40,317.49 L239.20,317.36 L240.00,317.22 L240.80,317.08 L241.60,316.93 L242.40,316.78 L243.20,316.63 L244.00,316.48 L244.80,316.34 L245.60,316.19 L246.40,316.03 L247.20,315.86 L248.00,315.69 L248.80,315.52 L249.60,315.36 L250.40,315.22 L251.20,315.10 L252.00,315.00 L252.80,314.92 L253.60,314.85 L254.40,314.78 L255.20,314.71 L256.00,314.65 L256.80,314.59 L257.60,314.54 L258.40,314.50 L259.20,314.46 L260.00,314.43 L260.80,314.41 L261.60,314.39 L262.40,314.37 L263.20,314.35 L264.00,314.34 L264.80,314.32 L265.60,314.31 L266.40,314.30 L267.20,314.29 L268.00,314.28 L268.80,314.27 L269.60,314.26 L270.40,314.25 L271.20,314.25 L272.00,314.24 L272.80,314.23 L273.60,314.22 L274.40,314.21 L275.20,314.20 L276.00,314.19 L276.80,314.17 L277.60,314.16 L278.40,314.15 L279.20,314.13 L280.00,314.12 L280.80,314.10 L281.60,314.09 L282.40,314.08 L283.20,314.06 L284.00,314.05 L284.80,314.04 L285.60,314.03 L286.40,314.02 L287.20,314.01 L288.00,314.01 L288.80,314.00 L289.60,314.00 L290.40,314.00 L291.20,314.00 L292.00,314.00 L292.80,314.01 L293.60,314.01 L294.40,314.02 L295.20,314.03 L296.00,314.03 L296.80,314.04 L297.60,314.05 L298.40,314.06 L299.20,314.07 L300.00,314.08 L300.80,314.09 L301.60,314.10 L302.40,314.10 L303.20,314.11 L304.00,314.12 L304.80,314.13 L305.60,314.14 L306.40,314.15 L307.20,314.16 L308.00,314.17 L308.80,314.19 L309.60,314.20 L310.40,314.21 L311.20,314.22 L312.00,314.23 L312.80,314.25 L313.60,314.26 L314.40,314.27 L315.20,314.29 L316.00,314.30 L316.80,314.31 L317.60,314.33 L318.40,314.34 L319.20,314.36 L320.00,314.37 L320.80,314.38 L321.60,314.40 L322.40,314.41 L323.20,314.43 L324.00,314.44 L324.80,314.46 L325.60,314.48 L326.40,314.50 L327.20,314.51 L328.00,314.53 L328.80,314.55 L329.60,314.57 L330.40,314.59 L331.20,314.62 L332.00,314.64 L332.80,314.66 L333.60,314.69 L334.40,314.71 L335.20,314.74 L336.00,314.77 L336.80,314.81 L337.60,314.85 L338.40,314.89 L339.20,314.93 L340.00,314.98 L340.80,315.02 L341.60,315.07 L342.40,315.12 L343.20,315.17 L344.00,315.23 L344.80,315.28 L345.60,315.34 L346.40,315.39 L347.20,315.45 L348.00,315.51 L348.80,315.57 L349.60,315.62 L350.40,315.68 L351.20,315.74 L352.00,315.80 L352.80,315.86 L353.60,315.92 L354.40,315.99 L355.20,316.05 L356.00,316.12 L356.80,316.19 L357.60,316.27 L358.40,316.34 L359.20,316.41 L360.00,316.49 L360.80,316.57 L361.60,316.64 L362.40,316.72 L363.20,316.80 L364.00,316.88 L364.80,316.95 L365.60,317.03 L366.40,317.10 L367.20,317.18 L368.00,317.25 L368.80,317.32 L369.60,317.39 L370.40,317.45 L371.20,317.52 L372.00,317.58 L372.80,317.64 L373.60,317.71 L374.40,317.77 L375.20,317.83 L376.00,317.89 L376.80,317.95 L377.60,318.01 L378.40,318.07 L379.20,318.13 L380.00,318.18 L380.80,318.24 L381.60,318.29 L382.40,318.35 L383.20,318.39 L384.00,318.44 L384.80,318.49 L385.60,318.53 L386.40,318.58 L387.20,318.62 L388.00,318.66 L388.80,318.70 L389.60,318.73 L390.40,318.77 L391.20,318.81 L392.00,318.84 L392.80,318.88 L393.60,318.91 L394.40,318.95 L395.20,318.98 L396.00,319.01 L396.80,319.04 L397.60,319.08 L398.40,319.11 L399.20,319.14 L400.00,319.17 L400.80,319.21 L401.60,319.24 L402.40,319.27 L403.20,319.31 L404.00,319.34 L404.80,319.38 L405.60,319.42 L406.40,319.45 L407.20,319.49 L408.00,319.53 L408.80,319.57 L409.60,319.61 L410.40,319.65 L411.20,319.69 L412.00,319.73 L412.80,319.76 L413.60,319.80 L414.40,319.84 L415.20,319.88 L416.00,319.91 L416.80,319.95 L417.60,319.98 L418.40,320.01 L419.20,320.04 L420.00,320.07 L420.80,320.10 L421.60,320.12 L422.40,320.14 L423.20,320.16 L424.00,320.18 L424.80,320.20 L425.60,320.21 L426.40,320.22 L427.20,320.24 L428.00,320.25 L428.80,320.26 L429.60,320.28 L430.40,320.29 L431.20,320.30 L432.00,320.31 L432.80,320.32 L433.60,320.34 L434.40,320.35 L435.20,320.36 L436.00,320.37 L436.80,320.38 L437.60,320.39 L438.40,320.40 L439.20,320.41 L440.00,320.42 L440.80,320.43 L441.60,320.43 L442.40,320.44 L443.20,320.45 L444.00,320.46 L444.80,320.46 L445.60,320.47 L446.40,320.47 L447.20,320.48 L448.00,320.48 L448.80,320.49 L449.60,320.49 L450.40,320.49 L451.20,320.50 L452.00,320.50 L452.80,320.50 L453.60,320.50 L454.00,320.50" fill="none" stroke="#d40000" stroke-width="3" stroke-dasharray="9.5 4.4 2.2 4.73"/>
<rect x="69.6" y="17.7" width="460.1" height="435.3" fill="none" stroke="#000" stroke-width="2"/>
<g font-family="Liberation Sans, Arial, sans-serif" font-size="20" fill="#000"><text x="63.3" y="459.60" text-anchor="end">0</text><text x="63.3" y="420.01" text-anchor="end">0.05</text><text x="63.3" y="380.42" text-anchor="end">0.1</text><text x="63.3" y="340.83" text-anchor="end">0.15</text><text x="63.3" y="301.24" text-anchor="end">0.2</text><text x="63.3" y="261.65" text-anchor="end">0.25</text><text x="63.3" y="222.06" text-anchor="end">0.3</text><text x="63.3" y="182.47" text-anchor="end">0.35</text><text x="63.3" y="142.88" text-anchor="end">0.4</text><text x="63.3" y="103.29" text-anchor="end">0.45</text><text x="63.3" y="63.70" text-anchor="end">0.5</text><text x="63.3" y="24.11" text-anchor="end">0.55</text><text x="69.60" y="471.6" text-anchor="middle">0</text><text x="127.10" y="471.6" text-anchor="middle">5</text><text x="184.60" y="471.6" text-anchor="middle">10</text><text x="242.10" y="471.6" text-anchor="middle">15</text><text x="299.60" y="471.6" text-anchor="middle">20</text><text x="357.10" y="471.6" text-anchor="middle">25</text><text x="414.60" y="471.6" text-anchor="middle">30</text><text x="472.10" y="471.6" text-anchor="middle">35</text><text x="529.60" y="471.6" text-anchor="middle">40</text></g>
<text x="299.5" y="485.2" text-anchor="middle" font-family="Liberation Serif, Times New Roman, serif" font-weight="bold" font-style="italic" font-size="26">s</text>
<text transform="translate(25,248) rotate(-90)" font-family="Liberation Serif, Times New Roman, serif" font-weight="bold" font-style="italic" font-size="26">C<tspan font-size="14" dy="6.5">L</tspan></text>
<line x1="229.2" y1="57" x2="329.3" y2="57" stroke="#000" stroke-width="2.0"/>
<line x1="229.2" y1="83.6" x2="329.3" y2="83.6" stroke="#0000ff" stroke-width="1.7"/>
<path d="M279.00,78.80 L283.25,86.00 L274.75,86.00 Z" fill="none" stroke="#1a1aff" stroke-width="1.1"/>
<line x1="229.2" y1="110.2" x2="329.3" y2="110.2" stroke="#d40000" stroke-width="3" stroke-dasharray="9.5 4.4 2.2 4.73"/>
<text x="347" y="63.5" font-family="Liberation Serif, Times New Roman, serif" font-weight="bold" font-size="22.2">No blowing</text>
<text x="347" y="89.8" font-family="Liberation Serif, Times New Roman, serif" font-weight="bold" font-size="22.2"><tspan font-style="italic" font-size="23">C</tspan><tspan font-size="13.5" font-weight="normal" dy="6.8">μ0</tspan><tspan dy="-6.8" dx="-1.2">=0.0024</tspan></text>
<text x="347" y="117" font-family="Liberation Serif, Times New Roman, serif" font-weight="bold" font-size="22.2">Adaptive blowing</text>
</svg>
</body></html>
